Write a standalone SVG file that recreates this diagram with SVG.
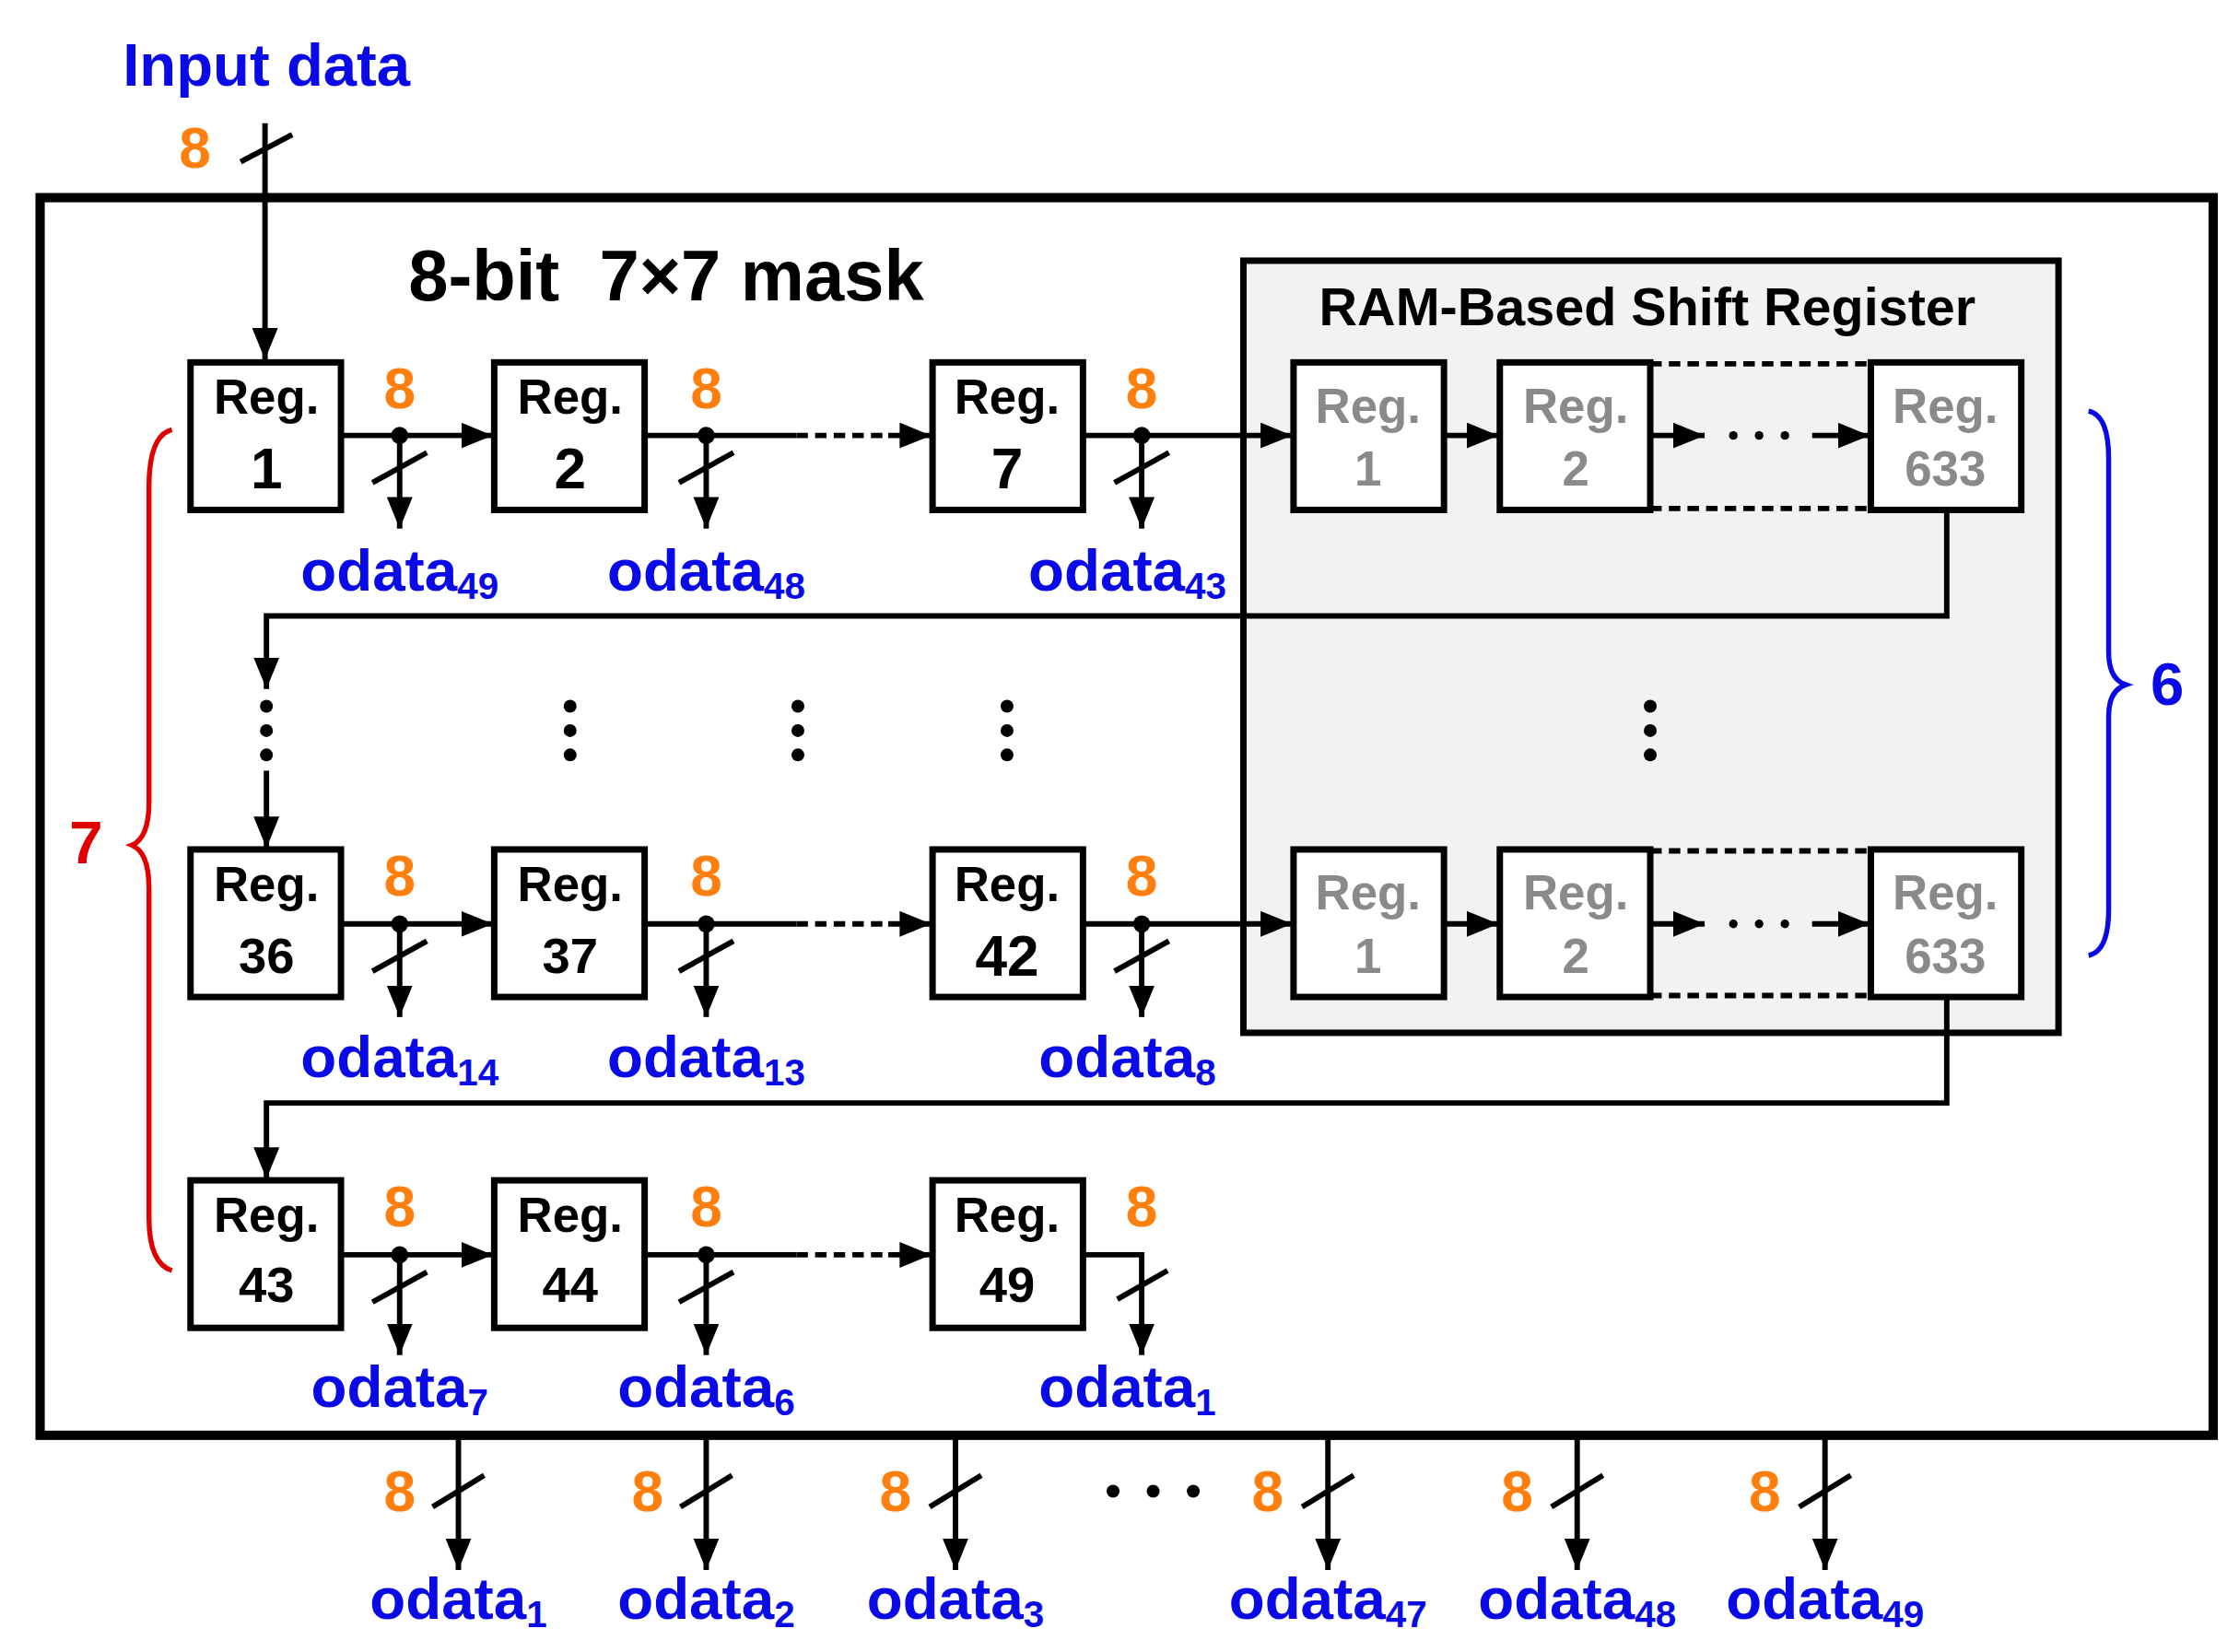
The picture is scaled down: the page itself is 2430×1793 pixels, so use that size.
<svg xmlns="http://www.w3.org/2000/svg" width="2430" height="1793" viewBox="0 0 2430 1793">
<style>
text{font-family:"Liberation Sans",Arial,sans-serif;font-weight:bold}
.bl{fill:#0a0ae6}.or{fill:#ff7f0e}.gr{fill:#8a8a8a}
.box{fill:#fff;stroke:#000;stroke-width:4.5}
.w{stroke:#000;stroke-width:3.8;fill:none}
.d{stroke:#000;stroke-width:3.8;fill:none;stroke-dasharray:8 5}
.rt{font-size:34px;text-anchor:middle}
.n{font-size:40px;text-anchor:middle}
.nn{font-size:35px;text-anchor:middle}
.od{font-size:41px;text-anchor:middle}
.sub{font-size:26px}
.e{font-size:40px;text-anchor:middle}
</style>
<defs>
<marker id="a" markerUnits="userSpaceOnUse" markerWidth="24" markerHeight="18" refX="22" refY="9" orient="auto"><path d="M0,0 L22,9 L0,18 Z" fill="#000"/></marker>
</defs>
<rect width="2430" height="1793" fill="#fff"/>
<g transform="scale(1.5547)">
<g id="outer"><rect x="28" y="138" width="1517" height="864" fill="none" stroke="#000" stroke-width="6.5"/></g>
<g id="ram"><rect x="868" y="182" width="569" height="539" fill="#f2f2f2" stroke="#000" stroke-width="4.5"/>
<text x="1150" y="227" style="font-size:37px;text-anchor:middle">RAM-Based Shift Register</text></g>
<text x="186" y="60" class="bl" style="font-size:42px;text-anchor:middle">Input data</text>
<text x="136" y="117" class="or e">8</text>
<text x="465" y="210" style="font-size:50px;text-anchor:middle;white-space:pre">8-bit  7×7 mask</text>

<g id="connectors">
<line x1="185" y1="86" x2="185" y2="251" class="w" marker-end="url(#a)"/>
<line x1="168" y1="113" x2="204" y2="94" class="w"/>
<g id="r1c">
<line x1="238" y1="304" x2="344" y2="304" class="w" marker-end="url(#a)"/>
<line x1="450" y1="304" x2="556" y2="304" class="w"/><line x1="556" y1="304" x2="620" y2="304" class="d"/><line x1="620" y1="304" x2="650" y2="304" class="w" marker-end="url(#a)"/>
<line x1="756" y1="304" x2="902" y2="304" class="w" marker-end="url(#a)"/>
<line x1="1008" y1="304" x2="1046" y2="304" class="w" marker-end="url(#a)"/>
<line x1="1152" y1="304" x2="1190" y2="304" class="w" marker-end="url(#a)"/>
<line x1="1265" y1="304" x2="1305" y2="304" class="w" marker-end="url(#a)"/>
<line x1="1152" y1="254" x2="1306" y2="254" class="d"/><line x1="1152" y1="355" x2="1306" y2="355" class="d"/>
</g>
<g id="r2c">
<line x1="238" y1="645" x2="344" y2="645" class="w" marker-end="url(#a)"/>
<line x1="450" y1="645" x2="556" y2="645" class="w"/><line x1="556" y1="645" x2="620" y2="645" class="d"/><line x1="620" y1="645" x2="650" y2="645" class="w" marker-end="url(#a)"/>
<line x1="756" y1="645" x2="902" y2="645" class="w" marker-end="url(#a)"/>
<line x1="1008" y1="645" x2="1046" y2="645" class="w" marker-end="url(#a)"/>
<line x1="1152" y1="645" x2="1190" y2="645" class="w" marker-end="url(#a)"/>
<line x1="1265" y1="645" x2="1305" y2="645" class="w" marker-end="url(#a)"/>
<line x1="1152" y1="594" x2="1306" y2="594" class="d"/><line x1="1152" y1="695" x2="1306" y2="695" class="d"/>
</g>
<g id="r3c">
<line x1="238" y1="876" x2="344" y2="876" class="w" marker-end="url(#a)"/>
<line x1="450" y1="876" x2="556" y2="876" class="w"/><line x1="556" y1="876" x2="620" y2="876" class="d"/><line x1="620" y1="876" x2="650" y2="876" class="w" marker-end="url(#a)"/>
<polyline points="756,876 797,876 797,946" class="w" marker-end="url(#a)"/>
<line x1="780" y1="907" x2="815" y2="887" class="w"/>
</g>
<g fill="#000">
<circle cx="279" cy="304" r="6"/><circle cx="493" cy="304" r="6"/><circle cx="797" cy="304" r="6"/>
<circle cx="279" cy="645" r="6"/><circle cx="493" cy="645" r="6"/><circle cx="797" cy="645" r="6"/>
<circle cx="279" cy="876" r="6"/><circle cx="493" cy="876" r="6"/>
</g>
<g>
<line x1="279" y1="304" x2="279" y2="369" class="w" marker-end="url(#a)"/><line x1="260" y1="337" x2="298" y2="316" class="w"/>
<line x1="493" y1="304" x2="493" y2="369" class="w" marker-end="url(#a)"/><line x1="474" y1="337" x2="512" y2="316" class="w"/>
<line x1="797" y1="304" x2="797" y2="369" class="w" marker-end="url(#a)"/><line x1="778" y1="337" x2="816" y2="316" class="w"/>
<line x1="279" y1="645" x2="279" y2="710" class="w" marker-end="url(#a)"/><line x1="260" y1="678" x2="298" y2="657" class="w"/>
<line x1="493" y1="645" x2="493" y2="710" class="w" marker-end="url(#a)"/><line x1="474" y1="678" x2="512" y2="657" class="w"/>
<line x1="797" y1="645" x2="797" y2="710" class="w" marker-end="url(#a)"/><line x1="778" y1="678" x2="816" y2="657" class="w"/>
<line x1="279" y1="876" x2="279" y2="946" class="w" marker-end="url(#a)"/><line x1="260" y1="909" x2="298" y2="888" class="w"/>
<line x1="493" y1="876" x2="493" y2="946" class="w" marker-end="url(#a)"/><line x1="474" y1="909" x2="512" y2="888" class="w"/>
</g>
<polyline points="1359,356 1359,430 186,430 186,481" class="w" marker-end="url(#a)"/>
<line x1="186" y1="538" x2="186" y2="592" class="w" marker-end="url(#a)"/>
<polyline points="1359,696 1359,770 186,770 186,823" class="w" marker-end="url(#a)"/>
<g>
<line x1="320" y1="1003" x2="320" y2="1096" class="w" marker-end="url(#a)"/><line x1="302" y1="1052" x2="338" y2="1030" class="w"/>
<line x1="493" y1="1003" x2="493" y2="1096" class="w" marker-end="url(#a)"/><line x1="475" y1="1052" x2="511" y2="1030" class="w"/>
<line x1="667" y1="1003" x2="667" y2="1096" class="w" marker-end="url(#a)"/><line x1="649" y1="1052" x2="685" y2="1030" class="w"/>
<line x1="927" y1="1003" x2="927" y2="1096" class="w" marker-end="url(#a)"/><line x1="909" y1="1052" x2="945" y2="1030" class="w"/>
<line x1="1101" y1="1003" x2="1101" y2="1096" class="w" marker-end="url(#a)"/><line x1="1083" y1="1052" x2="1119" y2="1030" class="w"/>
<line x1="1274" y1="1003" x2="1274" y2="1096" class="w" marker-end="url(#a)"/><line x1="1256" y1="1052" x2="1292" y2="1030" class="w"/>
</g>
</g>

<g fill="#000">
<circle cx="186" cy="493" r="4.5"/><circle cx="186" cy="510" r="4.5"/><circle cx="186" cy="527" r="4.5"/>
<circle cx="398" cy="493" r="4.5"/><circle cx="398" cy="510" r="4.5"/><circle cx="398" cy="527" r="4.5"/>
<circle cx="557" cy="493" r="4.5"/><circle cx="557" cy="510" r="4.5"/><circle cx="557" cy="527" r="4.5"/>
<circle cx="703" cy="493" r="4.5"/><circle cx="703" cy="510" r="4.5"/><circle cx="703" cy="527" r="4.5"/>
<circle cx="1152" cy="493" r="4.5"/><circle cx="1152" cy="510" r="4.5"/><circle cx="1152" cy="527" r="4.5"/>
<circle cx="1210" cy="304" r="3"/><circle cx="1228" cy="304" r="3"/><circle cx="1246" cy="304" r="3"/>
<circle cx="1210" cy="645" r="3"/><circle cx="1228" cy="645" r="3"/><circle cx="1246" cy="645" r="3"/>
<circle cx="777" cy="1041" r="4.5"/><circle cx="805" cy="1041" r="4.5"/><circle cx="833" cy="1041" r="4.5"/>
</g>

<g id="reg1"><rect x="133" y="253" width="105" height="103" class="box"/><text x="186" y="289" class="rt">Reg.</text><text x="186" y="341" class="n">1</text></g>
<g id="reg2"><rect x="345" y="253" width="105" height="103" class="box"/><text x="398" y="289" class="rt">Reg.</text><text x="398" y="341" class="n">2</text></g>
<g id="reg7"><rect x="651" y="253" width="105" height="103" class="box"/><text x="703" y="289" class="rt">Reg.</text><text x="703" y="341" class="n">7</text></g>
<g id="ram1a"><rect x="903" y="253" width="105" height="103" class="box"/><text x="955" y="295" class="rt gr">Reg.</text><text x="955" y="339" class="rt gr">1</text></g>
<g id="ram2a"><rect x="1047" y="253" width="105" height="103" class="box"/><text x="1100" y="295" class="rt gr">Reg.</text><text x="1100" y="339" class="rt gr">2</text></g>
<g id="ram633a"><rect x="1306" y="253" width="105" height="103" class="box"/><text x="1358" y="295" class="rt gr">Reg.</text><text x="1358" y="339" class="rt gr">633</text></g>
<g id="reg36"><rect x="133" y="593" width="105" height="103" class="box"/><text x="186" y="629" class="rt">Reg.</text><text x="186" y="679" class="nn">36</text></g>
<g id="reg37"><rect x="345" y="593" width="105" height="103" class="box"/><text x="398" y="629" class="rt">Reg.</text><text x="398" y="679" class="nn">37</text></g>
<g id="reg42"><rect x="651" y="593" width="105" height="103" class="box"/><text x="703" y="681" class="n">42</text><text x="703" y="629" class="rt">Reg.</text></g>
<g id="ram1b"><rect x="903" y="593" width="105" height="103" class="box"/><text x="955" y="635" class="rt gr">Reg.</text><text x="955" y="679" class="rt gr">1</text></g>
<g id="ram2b"><rect x="1047" y="593" width="105" height="103" class="box"/><text x="1100" y="635" class="rt gr">Reg.</text><text x="1100" y="679" class="rt gr">2</text></g>
<g id="ram633b"><rect x="1306" y="593" width="105" height="103" class="box"/><text x="1358" y="635" class="rt gr">Reg.</text><text x="1358" y="679" class="rt gr">633</text></g>
<g id="reg43"><rect x="133" y="824" width="105" height="103" class="box"/><text x="186" y="860" class="rt">Reg.</text><text x="186" y="909" class="nn">43</text></g>
<g id="reg44"><rect x="345" y="824" width="105" height="103" class="box"/><text x="398" y="860" class="rt">Reg.</text><text x="398" y="909" class="nn">44</text></g>
<g id="reg49"><rect x="651" y="824" width="105" height="103" class="box"/><text x="703" y="860" class="rt">Reg.</text><text x="703" y="909" class="nn">49</text></g>

<g class="or">
<text x="279" y="285" class="e">8</text><text x="493" y="285" class="e">8</text><text x="797" y="285" class="e">8</text>
<text x="279" y="625" class="e">8</text><text x="493" y="625" class="e">8</text><text x="797" y="625" class="e">8</text>
<text x="279" y="856" class="e">8</text><text x="493" y="856" class="e">8</text><text x="797" y="856" class="e">8</text>
<text x="279" y="1055" class="e">8</text><text x="452" y="1055" class="e">8</text><text x="625" y="1055" class="e">8</text>
<text x="885" y="1055" class="e">8</text><text x="1059" y="1055" class="e">8</text><text x="1232" y="1055" class="e">8</text>
</g>
<g class="bl">
<text x="279" y="412" class="od">odata<tspan class="sub" dy="6">49</tspan></text>
<text x="493" y="412" class="od">odata<tspan class="sub" dy="6">48</tspan></text>
<text x="787" y="412" class="od">odata<tspan class="sub" dy="6">43</tspan></text>
<text x="279" y="752" class="od">odata<tspan class="sub" dy="6">14</tspan></text>
<text x="493" y="752" class="od">odata<tspan class="sub" dy="6">13</tspan></text>
<text x="787" y="752" class="od">odata<tspan class="sub" dy="6">8</tspan></text>
<text x="279" y="982" class="od">odata<tspan class="sub" dy="6">7</tspan></text>
<text x="493" y="982" class="od">odata<tspan class="sub" dy="6">6</tspan></text>
<text x="787" y="982" class="od">odata<tspan class="sub" dy="6">1</tspan></text>
<text x="320" y="1130" class="od">odata<tspan class="sub" dy="6">1</tspan></text>
<text x="493" y="1130" class="od">odata<tspan class="sub" dy="6">2</tspan></text>
<text x="667" y="1130" class="od">odata<tspan class="sub" dy="6">3</tspan></text>
<text x="927" y="1130" class="od">odata<tspan class="sub" dy="6">47</tspan></text>
<text x="1101" y="1130" class="od">odata<tspan class="sub" dy="6">48</tspan></text>
<text x="1274" y="1130" class="od">odata<tspan class="sub" dy="6">49</tspan></text>
<text x="1513" y="492" style="font-size:42px;text-anchor:middle">6</text>
</g>
<path d="M120,300 Q104,304 104,340 L104,560 Q104,585 92,590 Q104,595 104,620 L104,850 Q104,882 120,887" fill="none" stroke="#e00000" stroke-width="3.5"/>
<text x="60" y="603" style="font-size:42px;text-anchor:middle;fill:#e00000">7</text>
<path d="M1458,287 Q1472,290 1472,320 L1472,455 Q1472,474 1484,478 Q1472,482 1472,500 L1472,635 Q1472,664 1458,667" fill="none" stroke="#0a0ae6" stroke-width="3.5"/>
</g>
</svg>
